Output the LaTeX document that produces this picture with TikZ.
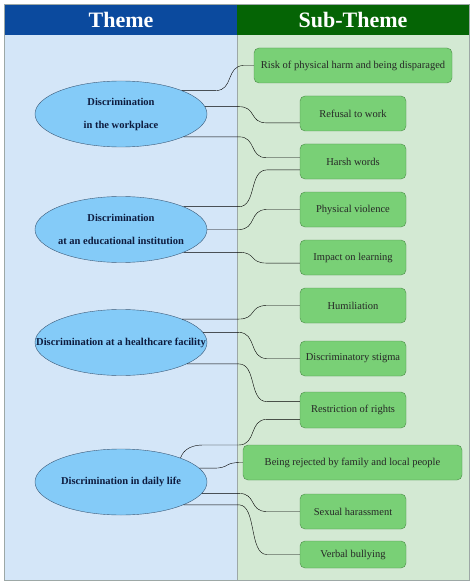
\documentclass[tikz,border=0pt]{standalone}
\usepackage{fontspec}
\setmainfont{Liberation Serif}
\usepackage{xcolor}
\usetikzlibrary{arrows.meta,calc,positioning,shapes.geometric}
\definecolor{headblue}{HTML}{0B4A9E}
\definecolor{headgreen}{HTML}{056405}
\definecolor{leftbg}{HTML}{D4E6F8}
\definecolor{rightbg}{HTML}{D3E9D3}
\definecolor{themefill}{HTML}{84CBF8}
\definecolor{themeline}{HTML}{3D5A78}
\definecolor{themetxt}{HTML}{0D1B3E}
\definecolor{subfill}{HTML}{79D076}
\definecolor{subline}{HTML}{4C8C48}
\definecolor{framegrey}{HTML}{9DA8A6}
\definecolor{linkgrey}{HTML}{3A4048}
\tikzset{%
	theme/.style    = {draw=themeline, fill=themefill, ellipse, minimum width=172pt, minimum height=66pt, inner sep=0pt},
	themetext/.style= {text=themetxt, font=\bfseries\fontsize{10.5}{23}\selectfont, align=center},
	subtheme/.style = {draw=subline, fill=subfill, rectangle, rounded corners=5pt, minimum width=106pt, minimum height=35pt, text centered, text=black!85, font=\fontsize{10.5}{12}\selectfont},
	header/.style   = {text=white, font=\bfseries\fontsize{22}{26}\selectfont},
	arrow/.style    = {draw=linkgrey, -{Latex[length=4pt,width=3pt]}},
	link/.style     = {arrow, to path={-- ($(\tikztostart -| \tikztotarget)+(-#1-14pt,0)$) .. controls ($(\tikztostart -| \tikztotarget)+(-#1+4pt,0)$) and ($(\tikztotarget)+(-#1-4pt,0)$) .. ($(\tikztotarget)+(-#1+14pt,0)$) -- (\tikztotarget)}},
	link/.default   = 47pt,
}
\begin{document}
\begin{tikzpicture}[x=1pt,y=-1pt]
	\useasboundingbox (0,0) rectangle (474,588);
	
	% background and header
	\fill[leftbg] (4,35) rectangle (237,580);
	\fill[rightbg] (237,35) rectangle (469,580);
	\fill[headblue] (4,4) rectangle (237,35);
	\fill[headgreen] (237,4) rectangle (469,35);
	\draw[framegrey] (237,35) -- (237,580);
	\draw[framegrey,thick] (4,4) rectangle (469,580);
	\node[header] (hTheme) at (121,20) {Theme};
	\node[header] (hSub) at (353,20) {Sub-Theme};
	
	% themes
	\node[theme,label={[themetext]center:{Discrimination\\in the workplace}}] (w1) at (121,114) {};
	\node[theme,label={[themetext]center:{Discrimination\\at an educational institution}}] (w2) at (121,229.5) {};
	\node[theme,label={[themetext]center:{Discrimination at a healthcare facility}}] (w3) at (121,342.5) {};
	\node[theme,label={[themetext]center:{Discrimination in daily life}}] (w4) at (121,482) {};
	
	% sub-themes
	\node[subtheme,minimum width=198pt] (s1) at (353,65.5) {Risk of physical harm and being disparaged};
	\node[subtheme] (s2) at (353,113.5) {Refusal to work};
	\node[subtheme] (s3) at (353,161.5) {Harsh words};
	\node[subtheme] (s4) at (353,209.5) {Physical violence};
	\node[subtheme] (s5) at (353,257.5) {Impact on learning};
	\node[subtheme] (s6) at (353,305.5) {Humiliation};
	\node[subtheme] (s7) at (353,358.5) {Discriminatory stigma};
	\node[subtheme,minimum height=36pt] (s8) at (353,410) {Restriction of rights};
	\node[subtheme,minimum width=219pt] (s9) at (352.5,462.5) {Being rejected by family and local people};
	\node[subtheme] (s10) at (353,511.5) {Sexual harassment};
	\node[subtheme,minimum height=27pt] (s11) at (353,554.5) {Verbal bullying};
	
	% connectors
	\draw (w1.21) to[link=24pt] (s1.west);
	\draw (w1.5) to[link] (s2.190);
	\draw (w1.340) to[link] (s3.176);
	\draw (w2.20) to[link] (s3.189);
	\draw (w2.0) to[link] (s4.west);
	\draw (w2.340) to[link] (s5.186);
	\draw (w3.21) to[link] (s6.west);
	\draw (w3.7) to[link] (s7.west);
	\draw (w3.342) to[link] (s8.171);
	\coordinate (r4) at (203,445);
	\draw (w4.22) to[out=70,in=180] (r4) to[link] (s8.190);
	\draw (w4.10) to[link=16pt] (s9.west);
	\draw (w4.352) to[link] (s10.west);
	\draw (w4.340) to[link] (s11.west);
\end{tikzpicture}
\end{document}
